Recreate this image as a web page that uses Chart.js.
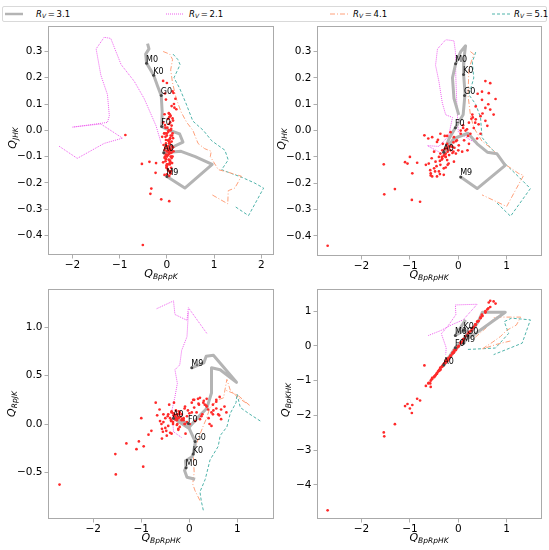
<!DOCTYPE html>
<html>
<head>
<meta charset="utf-8">
<script src="https://cdn.jsdelivr.net/npm/chart.js@4.4.0/dist/chart.umd.min.js"></script>
<style>
    body { margin: 0; background: #fff; width: 549px; height: 550px; position: relative; overflow: hidden; font-family: "DejaVu Sans", sans-serif; }
    canvas { position: absolute; }
    .legend-box { position: absolute; left: 2px; top: 6px; width: 543px; height: 14px; border: 1px solid #d9d9d9; border-radius: 2px; }
    .legend-line { position: absolute; top: 7px; }
    .legend-text { position: absolute; top: 7px; height: 14px; line-height: 14px; font-size: 8.5px; color: #000; white-space: nowrap; }
    .legend-text sub { font-size: 6px; vertical-align: -1px; }
    .axis-title { position: absolute; font-size: 11px; color: #000; white-space: nowrap; transform: translate(-50%, -50%); }
    .axis-title.rot { transform: translate(-50%, -50%) rotate(-90deg); }
    .axis-title sub { font-size: 7.5px; vertical-align: -2px; font-style: italic; }
</style>
</head>
<body>
<div class="legend-box"></div>
<svg class="legend-line" style="left:5px" width="18" height="14"><line x1="0" y1="7" x2="18" y2="7" stroke="#b4b4b4" stroke-width="2.5"/></svg>
<div class="legend-text" style="left:36px"><i>R<sub>V</sub></i>&#8239;=&#8239;3.1</div>
<svg class="legend-line" style="left:166px" width="18" height="14"><line x1="0" y1="7" x2="18" y2="7" stroke="#ee5cee" stroke-width="1" stroke-dasharray="1,1"/></svg>
<div class="legend-text" style="left:189px"><i>R<sub>V</sub></i>&#8239;=&#8239;2.1</div>
<svg class="legend-line" style="left:330px" width="18" height="14"><line x1="0" y1="7" x2="18" y2="7" stroke="#ffa07a" stroke-width="1" stroke-dasharray="5,2,1,2"/></svg>
<div class="legend-text" style="left:353px"><i>R<sub>V</sub></i>&#8239;=&#8239;4.1</div>
<svg class="legend-line" style="left:492px" width="18" height="14"><line x1="0" y1="7" x2="18" y2="7" stroke="#4fb3aa" stroke-width="1" stroke-dasharray="3,2"/></svg>
<div class="legend-text" style="left:514px"><i>R<sub>V</sub></i>&#8239;=&#8239;5.1</div>

<canvas id="pa" width="278" height="264" style="left:0px;top:18px"></canvas>
<canvas id="pb" width="268" height="264" style="left:278px;top:18px"></canvas>
<canvas id="pc" width="278" height="266" style="left:0px;top:281px"></canvas>
<canvas id="pd" width="268" height="266" style="left:278px;top:281px"></canvas>

<div class="axis-title" style="left:161px;top:274px"><i>Q</i><sub>BpRpK</sub></div>
<div class="axis-title rot" style="left:13px;top:138px"><i>Q</i><sub>JHK</sub></div>
<div class="axis-title" style="left:429px;top:275px"><i>Q</i><sub>BpRpHK</sub></div>
<div class="axis-title rot" style="left:282px;top:139px"><i>Q</i><sub>JHK</sub></div>
<div class="axis-title" style="left:161px;top:538px"><i>Q</i><sub>BpRpHK</sub></div>
<div class="axis-title rot" style="left:12px;top:404px"><i>Q</i><sub>RpJK</sub></div>
<div class="axis-title" style="left:429px;top:538px"><i>Q</i><sub>BpRpHK</sub></div>
<div class="axis-title rot" style="left:286px;top:400px"><i>Q</i><sub>BpKHK</sub></div>

<script>
const spectralTypes = ['M0', 'K0', 'G0', 'F0', 'A0', 'M9'];

// stars: one value per star in each array
const qBpRpK = [
    -0.51, -0.88, -0.53, -0.33, -0.35, -0.12, 0.05, -0.37, -0.23, -0.24,
    0.0, 0.02, -0.05, 0.1, -0.08, 0.0, 0.12, 0.14, 0.18, -0.02,
    0.1, 0.16, 0.2, 0.06, -0.05, 0.08, 0.02, 0.13, -0.08, 0.05,
    0.1, -0.03, 0.04, 0.0, 0.12, -0.06, 0.07, -0.02, -0.1, 0.03,
    0.08, -0.04, 0.05, -0.07, 0.0, 0.06, 0.1, -0.03, 0.13, 0.02,
    0.08, -0.02, 0.05, 0.0, 0.1, 0.04, 0.07, -0.03, 0.06, 0.02,
    0.09, -0.01, 0.04, 0.07, 0.0, 0.05, 0.02, -0.08, 0.03, 0.09,
    -0.05, 0.06, -0.06, 0.08, 0.02, -0.04, 0.12, 0.05, 0.04, 0.0,
    0.07, -0.02, 0.1, 0.03, 0.08, -0.04, 0.11, 0.05, 0.14,
    0.02, 0.06, -0.01, 0.09, 0.03, 0.05, -0.03, 0.11, 0.0, 0.07,
    0.04, 0.15, -0.04, 0.09, 0.12, 0.0, 0.06, -0.05, 0.1, 0.04,
    0.08, -0.02, 0.13, 0.01, 0.06
];
const qJHK = [
    -0.437, -0.018, -0.128, -0.222, -0.242, -0.263, -0.27, -0.12, -0.125, -0.162,
    -0.13, -0.15, -0.17, -0.10, 0.188, 0.18, 0.148, 0.142, 0.12, 0.117,
    0.092, 0.086, 0.08, 0.061, 0.061, 0.055, 0.043, 0.037, 0.03, 0.024,
    0.018, 0.01, 0.0, -0.012, -0.012, -0.012, -0.03, -0.037, -0.025, -0.006,
    -0.02, -0.012, -0.05, -0.056, -0.062, -0.05, -0.043, -0.025, -0.03, -0.08,
    -0.087, -0.093, -0.087, -0.08, -0.106, -0.112, -0.118, -0.118, -0.125, -0.13,
    -0.143, -0.143, -0.155, -0.162, -0.168, -0.174, -0.174, -0.122, -0.037, -0.075,
    -0.075, -0.075, -0.087, -0.1, -0.07, -0.1, -0.1, -0.08, -0.09, -0.1,
    -0.07, -0.11, -0.06, -0.04, 0.0, 0.02, -0.02, 0.05, -0.08,
    -0.095, -0.115, -0.135, -0.155, -0.06, -0.045, -0.065, -0.125, -0.14, 0.03,
    0.065, 0.1, 0.14, 0.005, 0.045, -0.02, -0.035, -0.105, -0.085, -0.075,
    -0.165, -0.05, -0.065, 0.01, -0.13
];
const qBpRpHK = [
    -2.70, -0.70, -1.54, -1.31, -1.53, -0.96, -0.79, -1.10, -1.05, -0.95,
    -0.67, -0.58, -0.57, -1.0, 0.56, 0.66, 0.49, 0.63, 0.77, 0.49,
    0.36, 0.56, 0.66, 0.73, 0.29, 0.46, 0.36, 0.56, 0.22, 0.42,
    0.6, 0.32, 0.15, 0.25, 0.46, 0.05, 0.39, 0.12, -0.09, -0.16,
    -0.23, -0.37, 0.22, 0.01, -0.12, -0.23, -0.44, -0.54, -0.62, 0.08,
    -0.05, -0.19, -0.37, -0.5, -0.33, -0.23, -0.09, -0.47, -0.61, -0.37,
    -0.5, -0.3, -0.4, -0.57, -0.3, -0.44, -0.54, -0.85, -0.03, 0.19,
    -0.33, -0.16, -0.26, -0.4, -0.28, -0.26, -0.34, -0.22, -0.28, -0.26,
    -0.22, -0.34, -0.15, -0.05, 0.05, 0.1, 0.2, 0.3, -0.1,
    -0.3, -0.38, -0.45, -0.48, -0.2, -0.1, -0.25, -0.2, -0.26, 0.35,
    0.5, 0.62, 0.4, 0.18, 0.27, -0.28, -0.42, -0.55, -0.12, 0.0,
    -0.38, -0.32, -0.08, 0.1, -0.22
];
const qRpJK = [
    -0.625, 0.22, -0.31, -0.20, -0.52, -0.44, -0.07, -0.26, -0.18, -0.23,
    0.09, 0.0, -0.05, 0.06, 0.25, 0.15, 0.2, 0.28, 0.12, 0.1,
    0.18, 0.23, 0.05, 0.18, 0.22, 0.12, 0.26, 0.16, 0.05, 0.0,
    0.1, 0.2, 0.12, 0.08, -0.02, 0.22, 0.15, 0.03, 0.18, 0.1,
    0.06, 0.13, 0.27, 0.0, 0.04, -0.05, 0.1, 0.02, 0.15, 0.25,
    0.02, 0.07, -0.1, 0.06, 0.11, -0.06, 0.0, -0.12, 0.03, 0.12,
    -0.04, 0.05, -0.09, -0.15, 0.08, -0.02, 0.1, -0.11, 0.14, 0.21,
    0.09, 0.04, 0.1, 0.06, 0.05, -0.01, 0.0, 0.07, 0.07, 0.04,
    0.1, 0.02, 0.05, 0.08, 0.12, 0.17, 0.2, 0.24, 0.0,
    0.09, 0.03, 0.08, -0.07, 0.12, 0.16, 0.0, -0.03, 0.1, 0.19,
    0.14, 0.09, 0.06, 0.26, 0.1, 0.14, 0.2, -0.08, 0.06, 0.11,
    0.04, 0.22, -0.1, 0.25, 0.13
];
const qBpKHK = [
    -4.73, -0.56, -2.49, -2.25, -2.60, -1.93, -1.57, -1.73, -1.67, -1.70,
    -1.15, -1.08, -1.18, -1.80, 1.0, 1.3, 0.88, 1.25, 1.22, 0.9,
    0.62, 0.98, 1.12, 1.28, 0.5, 0.8, 0.6, 0.96, 0.38, 0.72,
    1.05, 0.55, 0.28, 0.42, 0.82, 0.1, 0.7, 0.2, -0.16, -0.3,
    -0.42, -0.62, 0.4, 0.0, -0.2, -0.38, -0.78, -0.92, -1.08, 0.1,
    -0.12, -0.36, -0.66, -0.88, -0.6, -0.44, -0.18, -0.84, -1.06, -0.68,
    -0.9, -0.52, -0.72, -1.0, -0.55, -0.8, -0.95, -1.52, -0.05, 0.3,
    -0.58, -0.28, -0.46, -0.7, -0.5, -0.42, -0.6, -0.4, -0.5, -0.46,
    -0.4, -0.6, -0.28, -0.1, 0.08, 0.16, 0.35, 0.52, -0.18,
    -0.52, -0.66, -0.8, -0.86, -0.36, -0.2, -0.44, -0.34, -0.47, 0.62,
    0.86, 1.08, 0.7, 0.3, 0.45, -0.5, -0.74, -0.96, -0.22, -0.02,
    -0.7, -0.56, -0.12, 0.2, -0.4
];

// reddened loci, [x, y] pairs, null = break in the line
// panel a: Q_BpRpK vs Q_JHK
const rv31_a = [[-0.41, 0.33], [-0.38, 0.31], [-0.45, 0.29], [-0.43, 0.255], [-0.28, 0.21], [-0.2, 0.17], [-0.12, 0.132],
    [-0.1, 0.07], [-0.11, 0.014], [0.05, 0.0], [0.27, -0.014], [0.34, -0.045], [-0.05, -0.079], [-0.065, -0.086],
    [0.3, -0.08], [0.6, -0.1], [0.96, -0.13], [0.38, -0.22], [0.0, -0.176]];
const rv21_a = [[-0.12, -0.05], [-0.23, 0.017], [-0.48, 0.12], [-0.69, 0.186], [-0.97, 0.25], [-1.19, 0.35], [-1.33, 0.354],
    [-1.5, 0.31], [-1.4, 0.21], [-1.26, 0.136], [-1.22, 0.055], [-1.26, 0.03], [-2.0, 0.012], [-1.4, 0.024],
    [-0.94, -0.03], [-1.33, -0.05], [-1.9, -0.107], [-2.29, -0.06]];
const rv41_a = [[-0.08, 0.3], [0.06, 0.29], [0.12, 0.27], [0.08, 0.23], [0.12, 0.18], [0.2, 0.12], [0.3, 0.07], [0.42, 0.03],
    [0.55, 0.0], [0.66, -0.05], [0.8, -0.07], [0.94, -0.08], [0.92, -0.1], [1.09, -0.15], [1.3, -0.16], [1.58, -0.175],
    [1.44, -0.22], [1.3, -0.23], [1.29, -0.28], [0.94, -0.244]];
const rv51_a = [[0.13, 0.29], [0.23, 0.27], [0.28, 0.25], [0.15, 0.2], [0.27, 0.16], [0.41, 0.1], [0.55, 0.035], [0.77, 0.0],
    [0.95, -0.04], [1.23, -0.076], [1.3, -0.113], [1.16, -0.15], [1.3, -0.16], [1.6, -0.18], [1.85, -0.2], [2.05, -0.22],
    [1.73, -0.325], [1.44, -0.29]];

// panel b: Q_BpRpHK vs Q_JHK
const rv31_b = [[0.01, 0.06], [-0.09, 0.123], [-0.12, 0.2], [-0.055, 0.254], [0.05, 0.3], [0.15, 0.322], [0.115, 0.27],
    [0.11, 0.213], [0.14, 0.14], [0.1, 0.06], [-0.06, 0.011], [-0.19, -0.03], [-0.3, -0.082], [-0.09, -0.03],
    [0.2, -0.01], [0.39, -0.05], [0.6, -0.082], [0.8, -0.088], [0.97, -0.132], [0.39, -0.22], [0.05, -0.176]];
const rv21_b = [[0.39, -0.05], [0.2, -0.03], [0.0, -0.005], [-0.03, 0.1], [-0.05, 0.2], [-0.06, 0.3], [-0.09, 0.341],
    [-0.26, 0.345], [-0.43, 0.31], [-0.47, 0.248], [-0.4, 0.186], [-0.33, 0.105], [-0.26, 0.06], [-0.12, 0.05],
    [-0.2, -0.02], [-0.4, -0.06], [-0.64, -0.057], [-0.33, -0.088]];
const rv41_b = [[0.25, 0.3], [0.32, 0.29], [0.22, 0.235], [0.2, 0.136], [0.25, 0.06], [0.32, 0.011], [0.49, -0.04],
    [0.7, -0.07], [0.84, -0.1], [1.0, -0.132], [1.25, -0.163], [1.35, -0.17], [1.2, -0.22], [1.0, -0.288], [0.49, -0.244]];
const rv51_b = [[0.36, 0.298], [0.29, 0.26], [0.32, 0.2], [0.22, 0.136], [0.36, 0.1], [0.46, 0.05], [0.49, -0.026],
    [0.66, -0.064], [0.8, -0.09], [0.97, -0.126], [1.25, -0.176], [1.49, -0.22], [1.08, -0.325], [0.8, -0.275]];

// panel c: Q_BpRpHK vs Q_RpJK
const rv31_c = [[0.12, -0.57], [-0.05, -0.55], [-0.1, -0.48], [-0.07, -0.45], [-0.08, -0.38], [0.05, -0.34], [0.08, -0.31],
    [0.12, -0.2], [0.12, -0.18], [0.0, -0.05], [-0.02, 0.005], [-0.33, 0.06], [-0.02, -0.04], [0.22, 0.09], [0.36, 0.16],
    [0.46, 0.32], [0.46, 0.58], [0.64, 0.56], [0.98, 0.43], [0.5, 0.71], [0.35, 0.7], [0.3, 0.63], [0.05, 0.58]];
const rv21_c = [[-0.68, 1.19], [-0.33, 1.27], [-0.3, 1.13], [-0.05, 1.07], [-0.02, 1.2], [0.37, 0.93], null,
    [-0.02, 1.15], [-0.05, 0.9], [-0.16, 0.76], [-0.2, 0.61], [-0.3, 0.56], [-0.25, 0.42], [-0.3, 0.28], [-0.36, 0.15],
    [-0.33, -0.08], [-0.16, -0.14]];
const rv41_c = [[0.22, -0.79], [0.12, -0.69], [0.07, -0.62], [0.1, -0.5], [0.08, -0.31], [0.15, -0.2], [0.28, -0.03],
    [0.35, 0.05], [0.43, 0.17], [0.6, 0.25], [0.71, 0.27], [0.78, 0.46], [0.85, 0.35], [1.02, 0.27], [1.26, 0.19],
    [1.0, 0.3], [0.75, 0.35]];
const rv51_c = [[0.29, -0.89], [0.25, -0.8], [0.22, -0.7], [0.33, -0.57], [0.43, -0.37], [0.6, -0.23], [0.64, -0.12],
    [0.78, -0.03], [0.85, 0.11], [0.97, 0.22], [0.99, 0.31], [1.06, 0.17], [1.23, 0.11], [1.51, 0.02]];

// panel d: Q_BpRpHK vs Q_BpKHK
const rv31_d = [[0.15, 0.75], [0.08, 0.6], [-0.06, 0.3], [0.12, 0.45], [0.19, 0.3], [-0.06, -0.05], [-0.3, -0.55],
    [-0.05, -0.1], [0.1, 0.15], [0.3, 0.3], [0.97, 0.97], [0.5, 0.97], [0.42, 0.72], [0.2, 0.25], [0.11, 0.08]];
const rv21_d = [[-0.62, 0.3], [-0.35, 0.45], [-0.15, 0.6], [0.1, 0.75], [0.39, 1.2], [-0.06, 1.18], [-0.05, 0.9],
    [-0.2, 0.6], [-0.35, 0.35], [-0.25, -0.05], [-0.26, -0.25]];
const rv41_d = [[0.35, 0.25], [0.6, 0.55], [0.75, 0.83], [1.08, 0.83], [1.29, 0.83], [1.2, 0.6], [1.0, 0.45], [0.87, 0.27],
    [0.7, 0.1], [0.49, -0.09], [0.8, 0.05], [1.1, 0.15]];
const rv51_d = [[0.2, -0.1], [0.5, -0.08], [0.77, -0.06], [1.04, 0.36], [0.95, 0.7], [1.1, 0.8], [1.49, 0.75],
    [1.32, 0.08], [0.73, -0.25]];

// unreddened spectral-type points, same order as spectralTypes
const spec_a = [[-0.43, 0.255], [-0.28, 0.21], [-0.12, 0.132], [-0.11, 0.014], [-0.065, -0.086], [0.0, -0.176]];
const spec_b = [[-0.055, 0.254], [0.11, 0.213], [0.13, 0.133], [-0.06, 0.011], [-0.3, -0.082], [0.05, -0.176]];
const spec_c = [[-0.07, -0.45], [0.08, -0.31], [0.12, -0.18], [-0.02, 0.005], [-0.33, 0.06], [0.05, 0.58]];
const spec_d = [[-0.06, 0.3], [0.12, 0.45], [0.19, 0.3], [-0.06, -0.05], [-0.3, -0.55], [0.11, 0.08]];

const trackStyles = [
    { color: '#b4b4b4', width: 3, dash: [] },
    { color: '#ee5cee', width: 1, dash: [1, 1] },
    { color: '#ffa07a', width: 1, dash: [5, 2, 1, 2] },
    { color: '#4fb3aa', width: 1, dash: [3, 2] }
];

function toPoints(pairs) {
    return pairs.map(p => p ? { x: p[0], y: p[1] } : { x: null, y: null });
}

function fmt(v, dec) {
    if (Math.abs(v) < 1e-9) v = 0;
    return v.toFixed(dec).replace('-', '\u2212');
}

const framePlugin = {
    id: 'frame',
    afterDatasetsDraw(chart) {
        const a = chart.chartArea;
        const c = chart.ctx;
        c.save();
        c.strokeStyle = '#aaaaaa';
        c.lineWidth = 1;
        c.strokeRect(Math.round(a.left) + 0.5, Math.round(a.top) + 0.5,
            Math.round(a.right - a.left) - 1, Math.round(a.bottom - a.top) - 1);
        c.restore();
    }
};

const labelPlugin = {
    id: 'specLabels',
    afterDatasetsDraw(chart) {
        const spec = chart.config.options.specPoints;
        const c = chart.ctx;
        const xs = chart.scales.x, ys = chart.scales.y;
        c.save();
        c.font = '8px "DejaVu Sans"';
        c.fillStyle = '#000';
        c.textAlign = 'left';
        c.textBaseline = 'alphabetic';
        spec.forEach((s, i) => {
            c.fillText(spectralTypes[i], xs.getPixelForValue(s[0]) - 0.5, ys.getPixelForValue(s[1]) - 1.5);
        });
        c.restore();
    }
};

const panels = [
    { id: 'pa', xs: qBpRpK, ys: qJHK, tracks: [rv31_a, rv21_a, rv41_a, rv51_a], spec: spec_a,
      xMin: -2.52, xMax: 2.27, yMin: -0.475, yMax: 0.396, yStep: 0.1, yDec: 1, yW: 48, xH: 27 },
    { id: 'pb', xs: qBpRpHK, ys: qJHK, tracks: [rv31_b, rv21_b, rv41_b, rv51_b], spec: spec_b,
      xMin: -2.92, xMax: 1.73, yMin: -0.476, yMax: 0.396, yStep: 0.1, yDec: 1, yW: 39, xH: 26 },
    { id: 'pc', xs: qBpRpHK, ys: qRpJK, tracks: [rv31_c, rv21_c, rv41_c, rv51_c], spec: spec_c,
      xMin: -2.94, xMax: 1.76, yMin: -0.98, yMax: 1.39, yStep: 0.5, yDec: 1, yW: 48, xH: 28 },
    { id: 'pd', xs: qBpRpHK, ys: qBpKHK, tracks: [rv31_d, rv21_d, rv41_d, rv51_d], spec: spec_d,
      xMin: -2.92, xMax: 1.73, yMin: -4.98, yMax: 1.63, yStep: 1, yDec: 0, yW: 39, xH: 28 }
];

function axisCommon() {
    return {
        grid: { display: true, drawOnChartArea: false, drawTicks: true, tickLength: 3.5, color: '#999', lineWidth: 0.8 },
        border: { display: false }
    };
}

function makePanel(p) {
    const datasets = [];
    datasets.push({
        data: toPoints(p.spec),
        pointRadius: 1.5, pointBackgroundColor: '#444', pointBorderWidth: 0, order: 0
    });
    datasets.push({
        data: p.xs.map((x, i) => ({ x: x, y: p.ys[i] })),
        pointRadius: 1.35, pointBackgroundColor: '#ff2a2a', pointBorderWidth: 0, order: 1
    });
    p.tracks.forEach((t, k) => {
        const st = trackStyles[k];
        datasets.push({
            data: toPoints(t),
            showLine: true, spanGaps: false, pointRadius: 0,
            borderColor: st.color, borderWidth: st.width, borderDash: st.dash,
            borderJoinStyle: 'round', order: 2 + k
        });
    });

    new Chart(document.getElementById(p.id), {
        type: 'scatter',
        data: { datasets: datasets },
        options: {
            responsive: false,
            animation: false,
            events: [],
            specPoints: p.spec,
            layout: { padding: { top: 4, right: 4, left: 0, bottom: 0 } },
            plugins: { legend: { display: false }, tooltip: { enabled: false } },
            scales: {
                x: Object.assign(axisCommon(), {
                    type: 'linear', min: p.xMin, max: p.xMax,
                    afterFit: s => { s.height = p.xH; },
                    ticks: {
                        stepSize: 1, includeBounds: false, autoSkip: false, maxRotation: 0, padding: 0,
                        color: '#000', font: { family: 'DejaVu Sans', size: 10.5 },
                        callback: v => fmt(v, 0)
                    }
                }),
                y: Object.assign(axisCommon(), {
                    type: 'linear', min: p.yMin, max: p.yMax,
                    afterFit: s => { s.width = p.yW; },
                    ticks: {
                        stepSize: p.yStep, includeBounds: false, autoSkip: false, padding: 2,
                        color: '#000', font: { family: 'DejaVu Sans', size: 10.5 },
                        callback: v => fmt(v, p.yDec)
                    }
                })
            }
        },
        plugins: [framePlugin, labelPlugin]
    });
}

panels.forEach(makePanel);
</script>
</body>
</html>
